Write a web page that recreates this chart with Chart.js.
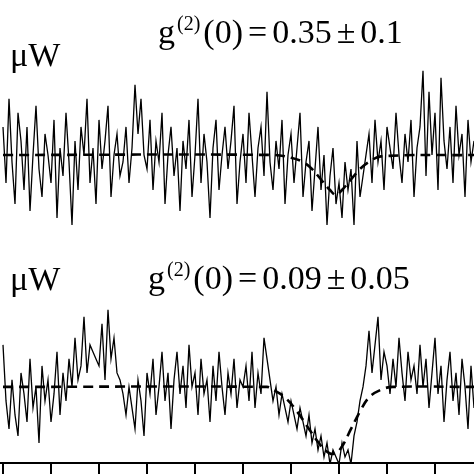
<!DOCTYPE html>
<html>
<head>
<meta charset="utf-8">
<script src="https://cdn.jsdelivr.net/npm/chart.js@4"></script>
<style>
  html, body { margin: 0; padding: 0; background: #fff; }
  #wrap { position: relative; width: 474px; height: 474px; overflow: hidden; }
  .panel { position: absolute; left: 0; width: 474px; height: 237px; }
  .lbl { position: absolute; font-family: "Liberation Serif", serif; font-size: 34px; line-height: 1; color: #000; white-space: nowrap; }
  .lbl sup { font-size: 20px; vertical-align: 13px; margin: 0 3px 0 2px; }
  .op { margin: 0 5px; }
</style>
</head>
<body>
<div id="wrap">
  <div class="panel" style="top:0"><canvas id="top" width="474" height="237"></canvas></div>
  <div class="panel" style="top:237px"><canvas id="bottom" width="474" height="237"></canvas></div>
  <div class="lbl" style="left:10px; top:38px">μW</div>
  <div class="lbl" style="left:158px; top:13px">g<sup>(2)</sup>(0)<span class="op">=</span>0.35<span class="op">±</span>0.1</div>
  <div class="lbl" style="left:10px; top:262px">μW</div>
  <div class="lbl" style="left:148px; top:259px">g<sup>(2)</sup>(0)<span class="op">=</span>0.09<span class="op">±</span>0.05</div>
</div>
<script>
// coincidence counts per time bin (baseline ~10)
const topCounts = [
  14, 6, 18, 9, 3, 16, 12, 5, 14, 2,
  10, 17, 8, 4, 13, 10, 6, 15, 1, 11,
  7, 16, 9, 0, 12, 5, 14, 10, 18, 6,
  11, 3, 15, 8, 12, 17, 4, 10, 13, 7,
  9, 14, 6, 11, 20, 13, 18, 10, 8, 15,
  5, 12, 9, 16, 3, 10, 14, 7, 11, 2,
  12, 8, 15, 4, 10, 18, 6, 13, 9, 1,
  11, 15, 5, 10, 14, 8, 12, 17, 3, 9,
  13, 6, 16, 10, 4, 11, 14, 7, 19, 9,
  5, 12, 8, 15, 3, 10, 13, 6, 11, 16,
  4, 9, 12, 2, 8, 14, 5, 10, 0, 7,
  11, 3, 6, 1, 9, 5, 8, 0, 12, 4,
  7, 10, 13, 6, 15, 9, 12, 5, 14, 11,
  8, 16, 10, 6, 13, 9, 15, 4, 11, 14,
  22, 7, 19, 10, 16, 5, 21, 12, 8, 14,
  6, 17, 10, 13, 4, 15, 9, 12
];
const bottomCounts = [
  16, 8, 4, 11, 6, 3, 12, 9, 5, 14,
  7, 10, 2, 13, 8, 11, 5, 9, 15, 6,
  12, 8, 14, 10, 17, 11, 13, 20, 12, 16,
  15, 14, 13, 19, 11, 21, 14, 17, 12, 11,
  9, 6, 10, 7, 4, 11, 8, 3, 12, 9,
  14, 6, 10, 15, 8, 12, 4, 11, 15, 9,
  13, 7, 16, 10, 12, 6, 14, 9, 11, 5,
  13, 8, 15, 10, 6, 12, 9, 14, 7, 11,
  10, 13, 8, 15, 7, 12, 9, 17, 14, 11,
  8, 10, 6, 9, 7, 5, 8, 6, 4, 7,
  5, 3, 6, 2, 4, 1, 3, 0, 2, -1,
  1, 0, -1, 2, 0, 1, -1, 3, 5, 8,
  10, 13, 18, 12, 16, 20, 11, 15, 13, 9,
  14, 10, 17, 12, 8, 15, 11, 13, 9, 16,
  10, 14, 7, 12, 17, 9, 13, 5, 11, 15,
  8, 12, 6, 14, 10, 4, 13, 7
];
// fitted curves (dashed)
const topFitX = [0, 90, 96, 100, 103, 106, 109, 111, 113, 116, 119, 122, 126, 157];
const topFitY = [10, 10, 9.6, 9, 8, 6.5, 5, 4.3, 5, 6.5, 8, 9, 9.8, 10];
const botFitX = [0, 88, 90, 94, 98, 102, 106, 109, 111, 113, 116, 119, 122, 126, 130, 157];
const botFitY = [10, 10, 9.6, 8.5, 6.5, 4, 1.6, 0.5, 0.6, 1.5, 4, 6.5, 8.5, 9.6, 10, 10];
const tickValues = [0, 16, 32, 48, 64, 80, 96, 112, 128, 144];

function toPts(ys) { return ys.map((y, i) => ({ x: i, y: y })); }
function pairPts(xs, ys) { return xs.map((x, i) => ({ x: x, y: ys[i] })); }

function makeChart(id, counts, fitX, fitY, yMin, yMax, showAxis) {
  return new Chart(document.getElementById(id), {
    type: 'line',
    data: {
      datasets: [
        { data: toPts(counts), borderColor: '#000', borderWidth: 1.3, pointRadius: 0, tension: 0, order: 2 },
        { data: pairPts(fitX, fitY), borderColor: '#000', borderWidth: 2.6, borderDash: [10, 6], pointRadius: 0, tension: 0.4, order: 1 }
      ]
    },
    options: {
      responsive: false,
      animation: false,
      layout: { padding: 0 },
      plugins: { legend: { display: false }, tooltip: { enabled: false } },
      scales: {
        x: {
          type: 'linear', min: -1, max: 157,
          display: showAxis,
          afterBuildTicks: (axis) => { axis.ticks = tickValues.map(v => ({ value: v })); },
          ticks: { display: false },
          grid: { drawOnChartArea: false, color: '#000', lineWidth: 2, tickLength: 11 },
          border: { color: '#000', width: 2 }
        },
        y: { display: false, min: yMin, max: yMax }
      }
    }
  });
}

makeChart('top', topCounts, topFitX, topFitY, -1.7, 32.1, false);
makeChart('bottom', bottomCounts, botFitX, botFitY, -0.86, 31.4, true);
</script>
</body>
</html>
